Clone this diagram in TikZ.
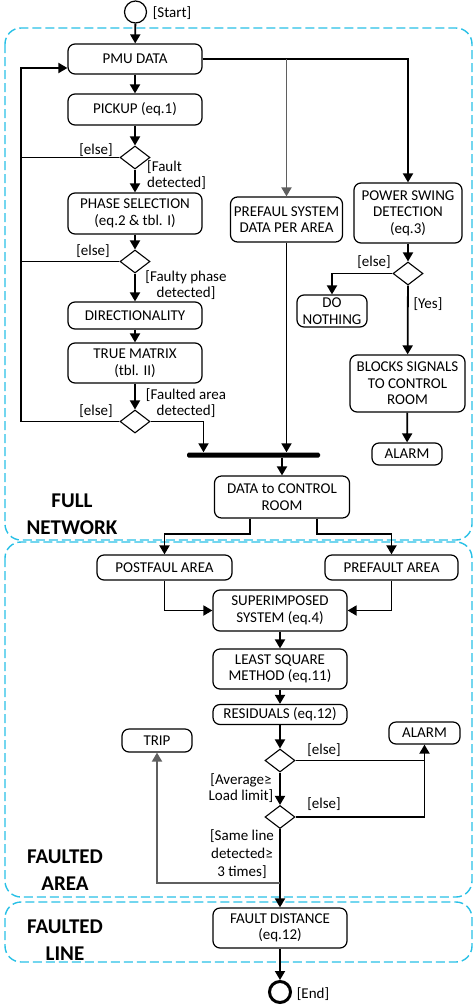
\documentclass[tikz,border=0pt]{standalone}
\usepackage{fontspec}
\setmainfont{Carlito}
\usetikzlibrary{shapes.geometric, arrows.meta, positioning}
\definecolor{regioncyan}{RGB}{40,192,230}
\definecolor{flowgray}{RGB}{95,95,95}

\tikzset{
  box/.style={draw, rounded corners=7pt, line width=1.2pt, align=center, inner sep=1pt,
    minimum width=134pt, minimum height=30pt},
  dec/.style={draw, diamond, line width=1.1pt, inner sep=0pt, minimum width=30pt, minimum height=23pt},
  lbl/.style={inner sep=0pt},
  flow/.style={line width=1.8pt, -{Triangle[width=10pt,length=9pt]}},
  wire/.style={line width=1.8pt},
  grayflow/.style={flow, draw=flowgray, color=flowgray},
  region/.style={draw=regioncyan, line width=1.4pt, dash pattern=on 9pt off 4pt, rounded corners=16pt},
  area/.style={font=\fontsize{21}{27}\selectfont\bfseries, align=center}
}

\begin{document}
\begin{tikzpicture}[x=1pt, y=-1pt, font=\fontsize{15}{16.5}\selectfont]
\useasboundingbox (0,0) rectangle (474,1005);

% dashed areas
\draw[region] (5,28) rectangle (472,540);
\draw[region] (5,542) rectangle (472,897);
\draw[region] (5,902) rectangle (472,962);
\node[area] (fullnet) at (72,514) {FULL\\NETWORK};
\node[area] (faultarea) at (65,870) {FAULTED\\AREA};
\node[area] (faultline) at (65,940) {FAULTED\\LINE};

% full network
\node[draw, circle, line width=1.2pt, minimum size=22pt, inner sep=0pt] (start) at (135.5,12) {};
\node[lbl] (startlbl) at (172,13) {[Start]};
\node[box] (pmu) at (135,59) {PMU DATA};
\node[box, minimum height=31pt] (pickup) at (135,109.5) {PICKUP (eq.1)};
\node[dec] (d1) at (135,157.5) {};
\node[box, minimum height=41pt] (phase) at (135,213.5) {PHASE SELECTION\\(eq.2 \& tbl. I)};
\node[dec] (d2) at (135,261.5) {};
\node[box, minimum height=27pt] (dir) at (135,315.5) {DIRECTIONALITY};
\node[box, minimum height=40pt] (tm) at (135,363) {TRUE MATRIX\\(tbl. II)};
\node[dec] (d3) at (135,421.5) {};
\node[lbl] (else1) at (96,150) {[else]};
\node[lbl, align=left, anchor=west] (fault1) at (147,175) {[Fault\\detected]};
\node[lbl] (else2) at (93,251) {[else]};
\node[lbl, align=center] (fault2) at (186,285) {[Faulty phase\\detected]};
\node[lbl] (else3) at (96,411) {[else]};
\node[lbl, align=center] (fault3) at (186,403) {[Faulted area\\detected]};

\node[box, minimum width=112pt, minimum height=45pt] (pre) at (286.5,219.5) {PREFAUL SYSTEM\\DATA PER AREA};
\node[box, minimum width=108pt, minimum height=60pt] (psd) at (408,213) {POWER SWING\\DETECTION\\(eq.3)};
\node[dec] (d4) at (408,273.5) {};
\node[lbl] (else4) at (374,262) {[else]};
\node[lbl] (yes) at (428,304) {[Yes]};
\node[box, minimum width=70pt, minimum height=32pt] (dn) at (332,311) {DO\\NOTHING};
\node[box, minimum width=115pt, minimum height=57pt] (bks) at (407.5,383.5) {BLOCKS SIGNALS\\TO CONTROL\\ROOM};
\node[box, minimum width=70pt, minimum height=22pt] (al1) at (407,454) {ALARM};
\node[fill, rounded corners=1.5pt, minimum width=133pt, minimum height=5pt, inner sep=0pt] (bar) at (253.5,455) {};
\node[box, minimum width=135pt, minimum height=42pt] (dcr) at (282,497) {DATA to CONTROL\\ROOM};

% faulted area
\node[box, minimum width=135pt, minimum height=25pt] (pof) at (164.5,567.5) {POSTFAUL AREA};
\node[box, minimum width=133pt, minimum height=25pt] (prf) at (391.5,567.5) {PREFAULT AREA};
\node[box, minimum height=41pt] (sup) at (280,610.5) {SUPERIMPOSED\\SYSTEM (eq.4)};
\node[box, minimum height=40pt] (lsm) at (280,669) {LEAST SQUARE\\METHOD (eq.11)};
\node[box, minimum height=20pt] (res) at (280,714.5) {RESIDUALS (eq.12)};
\node[dec] (d5) at (280,760.5) {};
\node[dec] (d6) at (280,817) {};
\node[box, minimum width=71pt, minimum height=22pt] (al2) at (424.5,733) {ALARM};
\node[box, minimum width=70pt, minimum height=23pt] (trip) at (157,740.5) {TRIP};
\node[lbl] (else5) at (324,750) {[else]};
\node[lbl] (else6) at (324,804) {[else]};
\node[lbl, align=center] (avg) at (241,788) {[Average≥\\Load limit]};
\node[lbl, align=center, font=\fontsize{15}{18}\selectfont] (same) at (242,854) {[Same line\\detected≥\\3 times]};

% faulted line
\node[box, minimum height=40pt] (fd) at (280,928) {FAULT DISTANCE\\(eq.12)};
\node[draw, circle, line width=3pt, minimum size=21pt, inner sep=0pt] (finish) at (280,992) {};
\node[lbl] (endlbl) at (313,994) {[End]};

% connectors
\coordinate (loop) at (21,68);
\coordinate (tj) at (280,883);
\draw[flow] (start) -- (pmu);
\draw[flow] (pmu) -- (pickup);
\draw[flow] (pickup) -- (d1);
\draw[flow] (d1) -- (phase);
\draw[flow] (phase) -- (d2);
\draw[flow] (d2) -- (dir);
\draw[flow] (dir) -- (tm);
\draw[flow] (tm) -- (d3);
\draw[flow] (d3.west) -| (loop) -- (loop -| pmu.west);
\draw[wire] (d1.west) -- (d1.west -| loop);
\draw[wire] (d2.west) -- (d2.west -| loop);
\draw[flow] (d3.east) -| ([xshift=-50pt]bar.north);
\draw[flow] (pmu.east) -| (psd.north);
\draw[grayflow] (pmu.east -| pre.north) -- (pre.north);
\draw[flow] (pre.south) -- (pre.south |- bar.north);
\draw[flow] (psd) -- (d4);
\draw[flow] (d4.west) -| (dn.north);
\draw[flow] (d4) -- (bks);
\draw[flow] (bks) -- (al1);
\draw[flow] (bar.south -| dcr.north) -- (dcr.north);
\draw[flow] ([xshift=-32pt]dcr.south) -- ++(0,15) -| (pof.north);
\draw[flow] ([xshift=35pt]dcr.south) -- ++(0,15) -| (prf.north);
\draw[flow] (pof.south) |- (sup.west);
\draw[flow] (prf.south) |- (sup.east);
\draw[flow] (sup) -- (lsm);
\draw[flow] (lsm) -- (res);
\draw[flow] (res) -- (d5);
\draw[wire] (d5.east) -- (d5.east -| al2.south);
\draw[flow] (d5) -- (d6);
\draw[flow] (d6.east) -| (al2.south);
\draw[flow] (d6) -- (fd);
\draw[grayflow] (tj) -| (trip.south);
\draw[flow] (fd) -- (finish);
\end{tikzpicture}
\end{document}
